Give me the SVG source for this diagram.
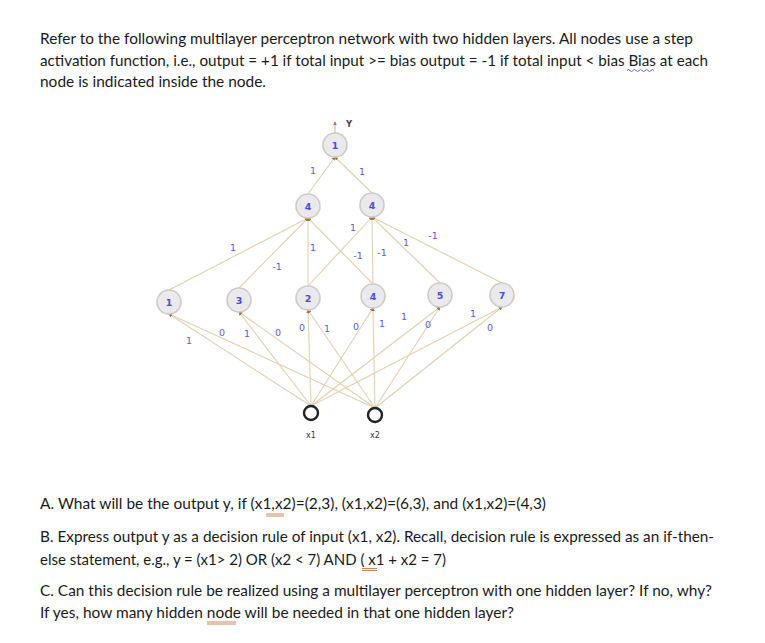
<svg xmlns="http://www.w3.org/2000/svg" width="765" height="643" viewBox="0 0 765 643">
<style>
.t{font-family:Lato,"Open Sans","Liberation Sans",sans-serif;font-size:16px;fill:#1a1a1a}
.e{stroke:#e4cfb0;stroke-width:1.1;fill:none}
.n{fill:#e9e9ee;stroke:#cfcac4;stroke-width:1.6}
.nl{font-family:"DejaVu Sans","Liberation Sans",sans-serif;font-size:9.5px;font-weight:bold;fill:#4c4cd6;text-anchor:middle}
.w{font-family:"DejaVu Sans","Liberation Sans",sans-serif;font-size:9.5px;fill:#5a5ae0;text-anchor:middle}
.in{fill:#fff;stroke:#222;stroke-width:2.4}
.il{font-family:"DejaVu Sans","Liberation Sans",sans-serif;font-size:8px;fill:#333;text-anchor:middle}
.sq{stroke:#c8784a;stroke-width:0.9;fill:none}
</style>
<defs>
<marker id="ah" viewBox="0 0 6 6" refX="5" refY="3" markerWidth="3.5" markerHeight="3.5" orient="auto">
<path d="M0,0 L6,3 L0,6 z" fill="#a07a4a"/>
</marker>
</defs>
<rect width="765" height="643" fill="#fff"/>

<g id="question-text">
<text class="t" x="40" y="44" textLength="653" lengthAdjust="spacingAndGlyphs">Refer to the following multilayer perceptron network with two hidden layers. All nodes use a step</text>
<text class="t" x="40" y="66" textLength="668" lengthAdjust="spacingAndGlyphs">activation function, i.e., output = +1 if total input &gt;= bias output = -1 if total input &lt; bias Bias at each</text>
<text class="t" x="40" y="87" textLength="226" lengthAdjust="spacingAndGlyphs">node is indicated inside the node.</text>
<path d="M627,70.5 q1.5,-2 3,0 t3,0 t3,0 t3,0 t3,0 t3,0 t3,0 t3,0 t3,0" stroke="#4a5ad0" stroke-width="0.9" fill="none"/>

<text class="t" x="40" y="509" textLength="506" lengthAdjust="spacingAndGlyphs">A. What will be the output y, if (x1,x2)=(2,3), (x1,x2)=(6,3), and (x1,x2)=(4,3)</text>
<path class="sq" d="M266,514 H284 M266,516 H284"/>
<text class="t" x="40" y="542" textLength="674" lengthAdjust="spacingAndGlyphs">B. Express output y as a decision rule of input (x1, x2). Recall, decision rule is expressed as an if-then-</text>
<text class="t" x="40" y="565" textLength="406" lengthAdjust="spacingAndGlyphs">else statement, e.g., y = (x1&gt; 2) OR (x2 &lt; 7) AND ( x1 + x2 = 7)</text>
<path class="sq" d="M362,568.5 H377 M362,570.5 H377"/>
<text class="t" x="40" y="596" textLength="672" lengthAdjust="spacingAndGlyphs">C. Can this decision rule be realized using a multilayer perceptron with one hidden layer? If no, why?</text>
<text class="t" x="40" y="618" textLength="474" lengthAdjust="spacingAndGlyphs">If yes, how many hidden node will be needed in that one hidden layer?</text>
<path class="sq" d="M207,622 H236 M207,624 H236"/>
</g>

<g id="connectors">
<line class="e" x1="335" y1="133" x2="335" y2="122" marker-end="url(#ah)" style="stroke:#c9b89e"/>
<line class="e" x1="308" y1="194" x2="335" y2="157" marker-end="url(#ah)"/>
<line class="e" x1="372" y1="193" x2="335" y2="157" marker-end="url(#ah)"/>
<line class="e" x1="169" y1="290" x2="308" y2="218" marker-end="url(#ah)"/>
<line class="e" x1="239" y1="288" x2="308" y2="218" marker-end="url(#ah)"/>
<line class="e" x1="308" y1="286" x2="308" y2="218" marker-end="url(#ah)"/>
<line class="e" x1="373" y1="284" x2="308" y2="218" marker-end="url(#ah)"/>
<line class="e" x1="308" y1="286" x2="372" y2="217" marker-end="url(#ah)"/>
<line class="e" x1="373" y1="284" x2="372" y2="217" marker-end="url(#ah)"/>
<line class="e" x1="440" y1="283" x2="372" y2="217" marker-end="url(#ah)"/>
<line class="e" x1="502" y1="283" x2="372" y2="217" marker-end="url(#ah)"/>
<line class="e" x1="311" y1="406" x2="169" y2="314" marker-end="url(#ah)"/>
<line class="e" x1="311" y1="406" x2="239" y2="312" marker-end="url(#ah)"/>
<line class="e" x1="311" y1="406" x2="308" y2="310" marker-end="url(#ah)"/>
<line class="e" x1="311" y1="406" x2="373" y2="308" marker-end="url(#ah)"/>
<line class="e" x1="311" y1="406" x2="440" y2="307" marker-end="url(#ah)"/>
<line class="e" x1="311" y1="406" x2="502" y2="307" marker-end="url(#ah)"/>
<line class="e" x1="375" y1="408" x2="169" y2="314" marker-end="url(#ah)"/>
<line class="e" x1="375" y1="408" x2="239" y2="312" marker-end="url(#ah)"/>
<line class="e" x1="375" y1="408" x2="308" y2="310" marker-end="url(#ah)"/>
<line class="e" x1="375" y1="408" x2="373" y2="308" marker-end="url(#ah)"/>
<line class="e" x1="375" y1="408" x2="440" y2="307" marker-end="url(#ah)"/>
<line class="e" x1="375" y1="408" x2="502" y2="307" marker-end="url(#ah)"/>

<text class="w" x="349" y="127" style="fill:#444;font-size:8.5px;font-weight:bold">Y</text>
<text class="w" x="313" y="174">1</text>
<text class="w" x="362" y="175">1</text>
<text class="w" x="233" y="251">1</text>
<text class="w" x="277" y="270">-1</text>
<text class="w" x="313" y="251">1</text>
<text class="w" x="353" y="231">1</text>
<text class="w" x="358" y="259">-1</text>
<text class="w" x="382" y="256">-1</text>
<text class="w" x="406" y="246">1</text>
<text class="w" x="433" y="239">-1</text>
<text class="w" x="189" y="344">1</text>
<text class="w" x="222" y="336">0</text>
<text class="w" x="247" y="337">1</text>
<text class="w" x="278" y="336">0</text>
<text class="w" x="302" y="331">0</text>
<text class="w" x="327" y="332">1</text>
<text class="w" x="356" y="330">0</text>
<text class="w" x="382" y="327">1</text>
<text class="w" x="404" y="320">1</text>
<text class="w" x="428" y="328">0</text>
<text class="w" x="473" y="317">1</text>
<text class="w" x="490" y="331">0</text>
</g>

<g id="node-out"><circle class="n" cx="335" cy="145" r="12"/><text class="nl" x="335" y="148.5">1</text></g>
<g id="node-h2a"><circle class="n" cx="308" cy="206" r="12"/><text class="nl" x="308" y="209.5">4</text></g>
<g id="node-h2b"><circle class="n" cx="372" cy="205" r="12"/><text class="nl" x="372" y="208.5">4</text></g>
<g id="node-h1a"><circle class="n" cx="169" cy="302" r="12"/><text class="nl" x="169" y="305.5">1</text></g>
<g id="node-h1b"><circle class="n" cx="239" cy="300" r="12"/><text class="nl" x="239" y="303.5">3</text></g>
<g id="node-h1c"><circle class="n" cx="308" cy="298" r="12"/><text class="nl" x="308" y="301.5">2</text></g>
<g id="node-h1d"><circle class="n" cx="373" cy="296" r="12"/><text class="nl" x="373" y="299.5">4</text></g>
<g id="node-h1e"><circle class="n" cx="440" cy="295" r="12"/><text class="nl" x="440" y="298.5">5</text></g>
<g id="node-h1f"><circle class="n" cx="502" cy="295" r="12"/><text class="nl" x="502" y="298.5">7</text></g>
<g id="node-x1"><circle class="in" cx="311" cy="413" r="7"/><text class="il" x="311" y="438">x1</text></g>
<g id="node-x2"><circle class="in" cx="375" cy="415" r="7"/><text class="il" x="375" y="438">x2</text></g>
</svg>
